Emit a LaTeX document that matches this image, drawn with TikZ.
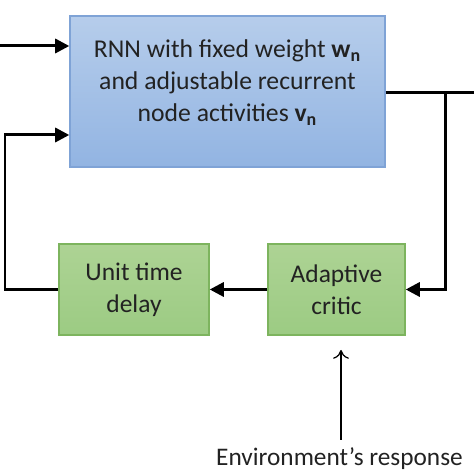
\documentclass[tikz,border=0pt]{standalone}
\usepackage{fontspec}
\setmainfont{Carlito}
\usetikzlibrary{arrows.meta}
\definecolor{rnntop}{HTML}{B6CDEB}
\definecolor{rnnbot}{HTML}{92B4E2}
\definecolor{rnnline}{HTML}{7FA3D6}
\definecolor{greentop}{HTML}{ADD394}
\definecolor{greenbot}{HTML}{9CCB83}
\definecolor{greenline}{HTML}{7DB45E}
\definecolor{txt}{HTML}{222222}
\tikzset{
  rnnbox/.style={draw=rnnline, line width=0.8pt, top color=rnntop, bottom color=rnnbot,
    minimum width=6.3cm, minimum height=3.02cm, inner sep=0pt},
  greenbox/.style={draw=greenline, line width=0.8pt, top color=greentop, bottom color=greenbot,
    minimum height=1.82cm, inner sep=0pt, align=center, text=txt,
    font=\fontsize{14.5}{18.2}\selectfont},
  boxtext/.style={align=center, text=txt, font=\fontsize{14.6}{18.2}\selectfont},
  flow/.style={line width=1.7pt, -{Triangle[length=8pt,width=8pt]}},
  plain/.style={line width=1.7pt}
}
\begin{document}
\begin{tikzpicture}
  \useasboundingbox (0,0) rectangle (9.48,9.48);
  % Blocs
  \node[rnnbox] (rnn) at (4.55,7.65) {};
  \node[boxtext] (rnntext) at (4.55,7.83)
    {RNN with fixed weight \textbf{w}\textsubscript{\textbf{n}}\\
     and adjustable recurrent\\
     node activities \textbf{v}\textsubscript{\textbf{n}}};
  \node[greenbox, minimum width=3.0cm] (delay) at (2.68,3.69) {Unit time\\delay};
  \node[greenbox, minimum width=2.74cm] (critic) at (6.73,3.69) {Adaptive\\critic};
  \node[text=txt, font=\fontsize{14.4}{17}\selectfont] (env) at (6.79,0.3) {Environment’s response};
  % Punts auxiliars
  \coordinate (in) at (0,8.56);
  \coordinate (out) at (9.48,7.62);
  \coordinate (split) at (8.9,7.62);
  \coordinate (left) at (0.1,3.69);
  \coordinate (envtop) at (6.82,0.68);
  % Connexions
  \draw[flow] (in) -- (in -| rnn.west);
  \draw[plain] (rnn.east |- out) -- (out);
  \draw[flow] (split) |- (critic.east);
  \draw[flow] (critic.west) -- (delay.east);
  \draw[flow] (delay.west) -- (left) |- (rnn.west |- 0,6.78);
  \draw[line width=0.7pt, -{To[length=5pt,width=9pt]}] (envtop) -- (6.82,2.48);
\end{tikzpicture}
\end{document}
